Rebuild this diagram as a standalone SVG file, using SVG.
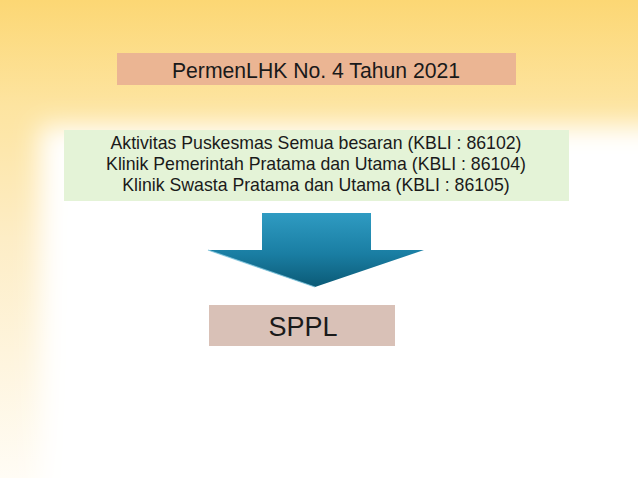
<svg xmlns="http://www.w3.org/2000/svg" width="638" height="478" viewBox="0 0 638 478">
<defs>
<linearGradient id="bg" x1="0" y1="0" x2="0" y2="478" gradientUnits="userSpaceOnUse">
<stop offset="0" stop-color="#fcd774"/>
<stop offset="0.22" stop-color="#fde4a0"/>
<stop offset="0.5" stop-color="#fdedc6"/>
<stop offset="1" stop-color="#fffcf5"/>
</linearGradient>
<filter id="blur" x="-20%" y="-20%" width="140%" height="140%"><feGaussianBlur stdDeviation="13"/></filter>
<linearGradient id="arrow" x1="0" y1="0" x2="0" y2="1">
<stop offset="0" stop-color="#2f9bc2"/>
<stop offset="0.55" stop-color="#1a7ea3"/>
<stop offset="1" stop-color="#0b5a76"/>
</linearGradient>
<style>
text{font-family:"Liberation Sans",Arial,sans-serif;fill:#1a1a1a;text-anchor:middle}
</style>
</defs>
<rect width="638" height="478" fill="url(#bg)"/>
<rect x="40" y="126" width="640" height="400" fill="#ffffff" filter="url(#blur)"/>
<g id="node-permen">
<rect x="117" y="53" width="399" height="32" fill="#ebb593"/>
<text x="316" y="78" font-size="21.2">PermenLHK No. 4 Tahun 2021</text>
</g>
<g id="node-kbli">
<rect x="64" y="130" width="505" height="71" fill="#e4f3d7"/>
<text x="316" y="149" font-size="17.7">Aktivitas Puskesmas Semua besaran (KBLI : 86102)</text>
<text x="316" y="170" font-size="17.7">Klinik Pemerintah Pratama dan Utama (KBLI : 86104)</text>
<text x="316" y="191" font-size="17.7">Klinik Swasta Pratama dan Utama (KBLI : 86105)</text>
</g>
<g id="connectors">
<path d="M262,213 H371 V250 H424 L315,287 L208,250 H262 Z" fill="url(#arrow)"/>
<path d="M208,250 L315,287" stroke="#7cc3dc" stroke-width="1.2" fill="none" opacity="0.8"/>
</g>
<g id="node-sppl">
<rect x="209" y="305" width="186" height="41" fill="#d9c1b7"/>
<text x="303" y="336" font-size="27">SPPL</text>
</g>
</svg>
